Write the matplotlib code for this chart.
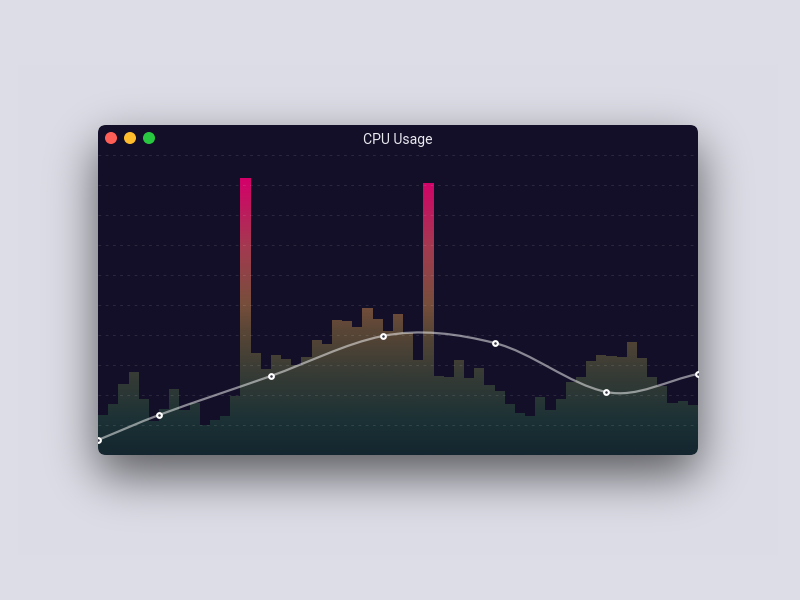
import numpy as np
import matplotlib
matplotlib.use("Agg")
import matplotlib.pyplot as plt
from matplotlib.path import Path
from matplotlib.patches import FancyBboxPatch, PathPatch, Circle
from matplotlib.colors import LinearSegmentedColormap

plt.rcParams['font.family'] = ['Roboto', 'DejaVu Sans']

title = "CPU Usage"
bar_values = [40, 51, 71, 83, 56, 34, 46, 66, 45, 52, 30, 35, 39, 59, 277, 102, 86, 100, 96, 90,
              98, 115, 111, 135, 134, 128, 147, 136, 124, 141, 122, 95, 272, 79, 78, 95, 77, 87,
              70, 64, 51, 42, 39, 58, 45, 56, 73, 78, 94, 100, 99, 98, 113, 97, 78, 69, 52, 54, 50]
line_x = [0, 6, 17, 28, 39, 50, 59]
line_y = [15, 40, 79, 119, 112, 63, 81]
grid_levels = [30, 60, 90, 120, 150, 180, 210, 240, 270, 300]

BG = np.array([220, 221, 230]) / 255
WIN = "#140f28"
L, R, T, B = 98, 698, 125, 455
W, H = 800, 600
RAD = 8

fig = plt.figure(figsize=(8, 6), dpi=100)

# page background with a blurred window shadow
bg_ax = fig.add_axes([0, 0, 1, 1])
bg_ax.axis("off")
mask = np.zeros((H, W))
mask[T + 20:B + 20, L:R] = 1.0
sigma = 24
kx = np.exp(-0.5 * (np.arange(-80, 81) / sigma) ** 2)
kx /= kx.sum()
mask = np.apply_along_axis(lambda v: np.convolve(v, kx, mode="same"), 0, mask)
mask = np.apply_along_axis(lambda v: np.convolve(v, kx, mode="same"), 1, mask)
alpha = (mask * 0.6)[..., None]
page = BG[None, None, :] * (1 - alpha)
bg_ax.imshow(page, extent=(0, W, H, 0), aspect="auto", interpolation="bilinear")
bg_ax.set_xlim(0, W)
bg_ax.set_ylim(H, 0)

# window
window = FancyBboxPatch((L + RAD, T + RAD), R - L - 2 * RAD, B - T - 2 * RAD,
                        boxstyle=f"round,pad={RAD},rounding_size={RAD}",
                        fc=WIN, ec="none", transform=bg_ax.transData, zorder=1)
bg_ax.add_patch(window)

# chart area
ax = fig.add_axes([L / W, 1 - B / H, (R - L) / W, (B - T) / H])
ax.patch.set_alpha(0)
ax.axis("off")

bars = ax.bar(np.arange(len(bar_values)), bar_values, width=1.0, align="edge",
              color="none", edgecolor="none", linewidth=0)
compound = Path.make_compound_path(*[b.get_path().transformed(b.get_patch_transform()) for b in bars])
clip = PathPatch(compound, transform=ax.transData, fc="none", ec="none")
ax.add_patch(clip)
cmap = LinearSegmentedColormap.from_list("bars", [
    (0.00, "#14262f"), (0.12, "#1b3135"), (0.30, "#383c35"), (0.45, "#5a4636"),
    (0.55, "#784e3c"), (0.75, "#a33a50"), (1.00, "#d4006a")])
img = ax.imshow(np.linspace(1, 0, 256)[:, None], cmap=cmap, vmin=0, vmax=1,
                extent=(0, len(bar_values), 0, 277), aspect="auto", zorder=2)
img.set_clip_path(clip)
ax.set_xlim(0, len(bar_values))
ax.set_ylim(0, B - T)

ax.hlines(grid_levels, 0, len(bar_values), colors="#ffffff", alpha=0.10, linewidth=0.8,
          linestyles=(0, (2.5, 4)), zorder=3)

# smooth line through the points
tangent_scale = np.array([1, 1, 1, 1.35, 1, 1.35, 1])
px = np.array(line_x, float)
py = np.array(line_y, float)
m = np.zeros(len(px))
m[1:-1] = (py[2:] - py[:-2]) / (px[2:] - px[:-2])
m[0] = (py[1] - py[0]) / (px[1] - px[0])
m[-1] = (py[-1] - py[-2]) / (px[-1] - px[-2])
m = m * tangent_scale
verts = [(px[0], py[0])]
codes = [Path.MOVETO]
for i in range(len(px) - 1):
    d = (px[i + 1] - px[i]) / 3
    verts += [(px[i] + d, py[i] + m[i] * d), (px[i + 1] - d, py[i + 1] - m[i + 1] * d), (px[i + 1], py[i + 1])]
    codes += [Path.CURVE4] * 3
ax.add_patch(PathPatch(Path(verts, codes), fc="none", ec="#ffffff", alpha=0.5, lw=1.6, zorder=4,
                       capstyle="round"))
ax.plot(line_x, line_y, ls="none", marker="o", ms=3.4, mfc="#3a3a4a", mec="white", mew=1.5, zorder=5)

# page corners redrawn over the chart so the window keeps its rounded bottom
top_ax = fig.add_axes([0, 0, 1, 1])
top_ax.axis("off")
top_ax.patch.set_alpha(0)
corner_codes = [Path.MOVETO, Path.LINETO, Path.LINETO, Path.CURVE3, Path.CURVE3, Path.CLOSEPOLY]
top_ax.set_xlim(0, W)
top_ax.set_ylim(H, 0)
corner_paths = [
    Path([(L - 1, B + 1), (L - 1, B - RAD), (L, B - RAD), (L, B), (L + RAD, B), (L - 1, B + 1)], corner_codes),
    Path([(R + 1, B + 1), (R + 1, B - RAD), (R, B - RAD), (R, B), (R - RAD, B), (R + 1, B + 1)], corner_codes),
]
for cp in corner_paths:
    over = top_ax.imshow(page, extent=(0, W, H, 0), aspect="auto", interpolation="bilinear")
    over.set_clip_path(cp, top_ax.transData)
top_ax.set_xlim(0, W)
top_ax.set_ylim(H, 0)

# title bar
for cx, c in zip([111, 130, 149], ["#ff5f57", "#ffbd2e", "#28c940"]):
    top_ax.add_patch(Circle((cx, 138), 6, fc=c, ec="none", zorder=6))
top_ax.text(398, 144, title, color="#e8e8ef", fontsize=10.1, ha="center", va="baseline", zorder=6)

fig.savefig("out.png", dpi=100)
